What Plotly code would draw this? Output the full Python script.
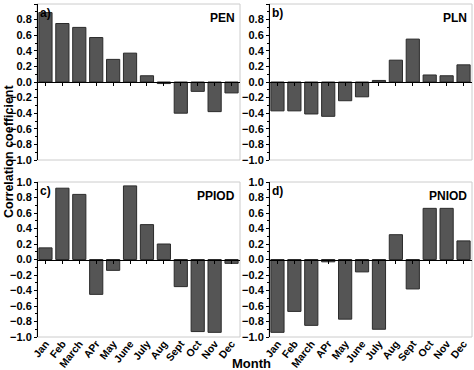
import plotly.graph_objects as go

months = ["Jan", "Feb", "March", "APr", "May", "June", "July", "Aug", "Sept", "Oct", "Nov", "Dec"]
pen = [0.89, 0.75, 0.70, 0.57, 0.29, 0.37, 0.08, -0.02, -0.40, -0.12, -0.38, -0.14]
pln = [-0.37, -0.37, -0.41, -0.44, -0.24, -0.19, 0.02, 0.28, 0.55, 0.09, 0.08, 0.22]
ppiod = [0.15, 0.92, 0.84, -0.45, -0.14, 0.95, 0.45, 0.20, -0.35, -0.93, -0.94, -0.05]
pniod = [-0.94, -0.67, -0.85, -0.03, -0.77, -0.16, -0.90, 0.32, -0.38, 0.66, 0.66, 0.24]
series_names = ["PEN", "PLN", "PPIOD", "PNIOD"]
panel_tags = ["a)", "b)", "c)", "d)"]
y_ticks = [-1.0, -0.8, -0.6, -0.4, -0.2, 0.0, 0.2, 0.4, 0.6, 0.8, 1.0]

W, H = 474, 370
FONT = "Liberation Sans, Arial, sans-serif"

# pixel boxes (left, right, top, bottom)
boxes = [(37, 240, 4, 160), (269, 472, 4, 160), (37, 240, 182, 337), (269, 472, 182, 337)]
data = [pen, pln, ppiod, pniod]

fig = go.Figure()
layout = {}
for i, (vals, name, tag, box) in enumerate(zip(data, series_names, panel_tags, boxes)):
    l, r, t, b = box
    xa = "x" if i == 0 else f"x{i+1}"
    ya = "y" if i == 0 else f"y{i+1}"
    xdom = [l / W, r / W]
    ydom = [1 - b / H, 1 - t / H]
    zero_pos = 1 - ((t + b) / 2) / H
    bottom = i >= 2
    fig.add_trace(go.Bar(
        x=months, y=vals, xaxis=xa, yaxis=ya, width=0.78,
        marker=dict(color="#555555", line=dict(color="#2b2b2b", width=1)),
        showlegend=False, hoverinfo="skip",
    ))
    xkey = "xaxis" if i == 0 else f"xaxis{i+1}"
    ykey = "yaxis" if i == 0 else f"yaxis{i+1}"
    layout[xkey] = dict(
        domain=xdom, anchor="free", position=zero_pos, range=[-0.5, 11.5],
        showline=True, linecolor="#000000", linewidth=1,
        ticks="outside", ticklen=3, tickcolor="#000000", tickwidth=1,
        showticklabels=bottom, tickangle=-52,
        ticklabelstandoff=int(round((b - t) / 2 - 8)) if bottom else 0,
        tickfont=dict(family=FONT, size=10.5, color="#000000", weight="bold"),
        showgrid=False, zeroline=False, fixedrange=True, automargin=False,
    )
    layout[ykey] = dict(
        domain=ydom, anchor="free", position=xdom[0], range=[-1, 1],
        tickvals=y_ticks, tickformat=".1f",
        showline=True, linecolor="#000000", linewidth=1,
        ticks="outside", ticklen=3, tickcolor="#000000",
        minor=dict(dtick=0.1, ticks="outside", ticklen=2, tickcolor="#000000"),
        tickfont=dict(family=FONT, size=11, color="#000000", weight="bold"),
        showgrid=False, zeroline=False, fixedrange=True, automargin=False,
    )
    fig.add_shape(type="rect", xref=f"{xa} domain", yref=f"{ya} domain",
                  x0=0, x1=1, y0=0, y1=1, line=dict(color="#cccccc", width=1),
                  layer="below")
    fig.add_annotation(text=tag, xref=f"{xa} domain", yref=f"{ya} domain",
                       x=0.005, y=1.0, xanchor="left", yanchor="top", showarrow=False,
                       font=dict(family=FONT, size=12, color="#000000", weight="bold"))
    fig.add_annotation(text=name, xref=f"{xa} domain", yref=f"{ya} domain",
                       x=0.985, y=0.97, xanchor="right", yanchor="top", showarrow=False,
                       font=dict(family=FONT, size=12, color="#000000", weight="bold"))

fig.add_annotation(text="Correlation coefficient", xref="paper", yref="paper",
                   x=0, y=1 - 152 / H, xanchor="left", yanchor="middle", textangle=-90,
                   showarrow=False, font=dict(family=FONT, size=12.5, color="#000000", weight="bold"))
fig.add_annotation(text="Month", xref="paper", yref="paper",
                   x=252 / W, y=1 - 363 / H, xanchor="center", yanchor="middle",
                   showarrow=False, font=dict(family=FONT, size=13, color="#000000", weight="bold"))

fig.update_layout(
    width=W, height=H, margin=dict(l=0, r=0, t=0, b=0, autoexpand=False),
    paper_bgcolor="white", plot_bgcolor="white", bargap=0.2,
    **layout,
)
fig.write_html("out.html", config={"displayModeBar": False},
               post_script="document.body.style.margin='0';document.body.style.overflow='hidden';")
